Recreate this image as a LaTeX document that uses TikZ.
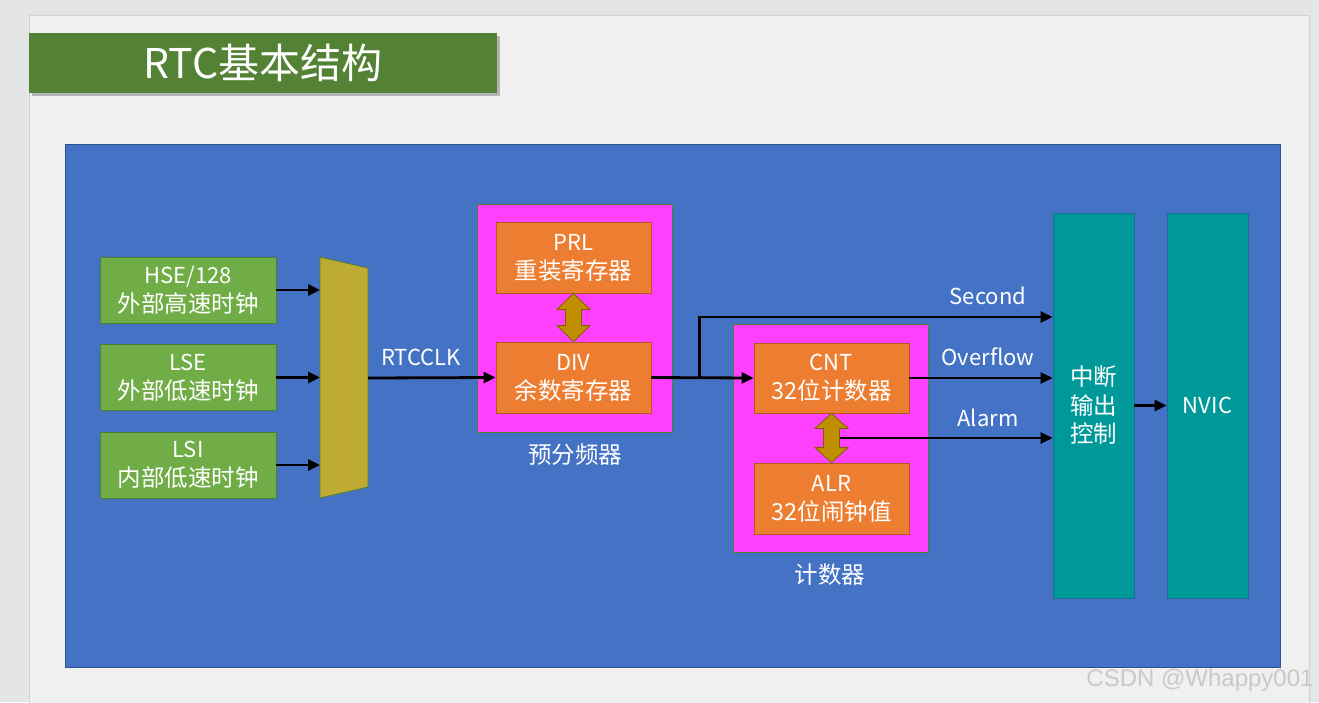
\documentclass[tikz,border=0pt]{standalone}
\usepackage{fontspec}
\newfontfamily\cjk{Noto Sans CJK SC}
\newfontfamily\wmfont{Liberation Sans}
\newcommand{\zhtxt}[1]{{\fontsize{23.5}{29}\selectfont #1}}
\usetikzlibrary{arrows.meta,calc}
\definecolor{bgout}{HTML}{E3E5E7}
\definecolor{slide}{HTML}{F0F0F0}
\definecolor{slideline}{HTML}{D2D2D2}
\definecolor{titlegreen}{HTML}{548235}
\definecolor{panelblue}{HTML}{4472C4}
\definecolor{panelline}{HTML}{2F528F}
\definecolor{srcgreen}{HTML}{70AD47}
\definecolor{srcline}{HTML}{507E32}
\definecolor{regorange}{HTML}{ED7D31}
\definecolor{regline}{HTML}{AE5A21}
\definecolor{grpmag}{HTML}{FF40FF}
\definecolor{muxgold}{HTML}{BFAA33}
\definecolor{dblgold}{HTML}{BF8F00}
\definecolor{dblline}{HTML}{7F6000}
\definecolor{tealbox}{HTML}{009999}
\definecolor{wmgrey}{HTML}{C9C9C9}
\tikzset{
  txt/.style={font=\cjk\fontsize{22}{29}\selectfont, text=white, align=center, inner sep=0pt},
  srcbox/.style={txt, draw=srcline, fill=srcgreen, line width=0.8pt, minimum width=176pt, minimum height=66pt},
  regbox/.style={txt, draw=regline, fill=regorange, line width=0.8pt, minimum width=155pt, minimum height=71pt},
  grpbox/.style={draw=srcline, fill=grpmag, line width=0.8pt, minimum width=195pt, minimum height=228pt, inner sep=0pt},
  tallbox/.style={txt, draw=panelline!60!tealbox, fill=tealbox, line width=0.8pt, minimum width=81pt, minimum height=385pt},
  arr/.style={line width=2.8pt, -{Triangle[length=12pt,width=11pt]}},
  dblarr/.style={draw=dblline, fill=dblgold, line width=0.8pt, line join=miter},
}
\begin{document}
\begin{tikzpicture}[x=1pt,y=-1pt]
\useasboundingbox (0,0) rectangle (1319,702);
% backgrounds
\fill[bgout] (0,0) rectangle (1319,702);
\draw[slideline, fill=slide, line width=0.8pt] (29,15) rectangle (1309,712);
% title
\fill[black!45, opacity=0.6] (32,36) rectangle (500,96);
\fill[titlegreen] (29,33) rectangle (497,93);
\node[font=\cjk\fontsize{41}{48}\selectfont, text=white, inner sep=0pt] (title) at (263,63) {RTC基本结构};
% panel
\draw[panelline, fill=panelblue, line width=0.8pt] (65,144) rectangle (1280,667);
% sources
\node[srcbox] (hse) at (188,290) {HSE/128\\\zhtxt{外部高速时钟}};
\node[srcbox] (lse) at (188,377.5) {LSE\\\zhtxt{外部低速时钟}};
\node[srcbox] (lsi) at (188,465) {LSI\\\zhtxt{内部低速时钟}};
% mux
\draw[srcline, fill=muxgold, line width=0.8pt] (320,257) -- (368,268) -- (368,487) -- (320,498) -- cycle;
\coordinate (muxin) at (320,378);
\coordinate (muxout) at (368,378);
\draw[arr] (hse.east) -- (hse.east -| muxin);
\draw[arr] (lse.east) -- (lse.east -| muxin);
\draw[arr] (lsi.east) -- (lsi.east -| muxin);
% prescaler
\node[grpbox] (pre) at (574.5,318) {};
\node[regbox] (prl) at (573.5,257.5) {PRL\\\zhtxt{重装寄存器}};
\node[regbox] (div) at (573.5,377.5) {DIV\\\zhtxt{余数寄存器}};
\node[txt] (prelbl) at (575,455) {\zhtxt{预分频器}};
\draw[dblarr] (prl.south) -- ++(16.5,16) -- ++(-8.5,0) -- ($(div.north)+(8,-16)$) -- ++(8.5,0) -- (div.north) -- ++(-16.5,-16) -- ++(8.5,0) -- ($(prl.south)+(-8,16)$) -- ++(-8.5,0) -- cycle;
% RTCCLK
\node[txt] (rtcclk) at (421,357) {RTCCLK};
\draw[arr] (muxout) -- (div.west);
% counter
\node[grpbox] (cntr) at (830.5,438) {};
\node[regbox, minimum height=70pt] (cnt) at (831.5,378) {CNT\\\zhtxt{32位计数器}};
\node[regbox] (alr) at (831.5,498.5) {ALR\\\zhtxt{32位闹钟值}};
\node[txt] (cntrlbl) at (830,575) {\zhtxt{计数器}};
\draw[dblarr] (cnt.south) -- ++(16.5,15) -- ++(-8.5,0) -- ($(alr.north)+(8,-15)$) -- ++(8.5,0) -- (alr.north) -- ++(-16.5,-15) -- ++(8.5,0) -- ($(cnt.south)+(-8,15)$) -- ++(-8.5,0) -- cycle;
% interrupt control and NVIC
\node[tallbox, font=\cjk\fontsize{23.5}{28.5}\selectfont] (intc) at (1093.5,405.5) {中断\\输出\\控制};
\node[tallbox] (nvic) at (1207.5,405.5) {NVIC};
% connections
\draw[arr] (div.east) -- (cnt.west);
\coordinate (br) at (701,378);
\coordinate (secy) at (0,317);
\draw[arr] ([xshift=-1.4pt]br) |- (intc.west |- secy);
\draw[arr] (cnt.east) -- (cnt.east -| intc.west);
\coordinate (alarmstart) at ($($(cnt.south)!0.5!(alr.north)$)+(8,0)$);
\draw[arr] (alarmstart) -- (alarmstart -| intc.west);
\draw[arr] (intc.east) -- (nvic.west);
\node[txt] (seclbl) at (988,296) {Second};
\node[txt] (ovflbl) at (988,357) {Overflow};
\node[txt] (alrmlbl) at (988,418) {Alarm};
% watermark
\node[font=\wmfont\fontsize{24}{28}\selectfont, text=wmgrey, inner sep=0pt] (wm) at (1200,680) {CSDN @Whappy001};
\end{tikzpicture}
\end{document}
